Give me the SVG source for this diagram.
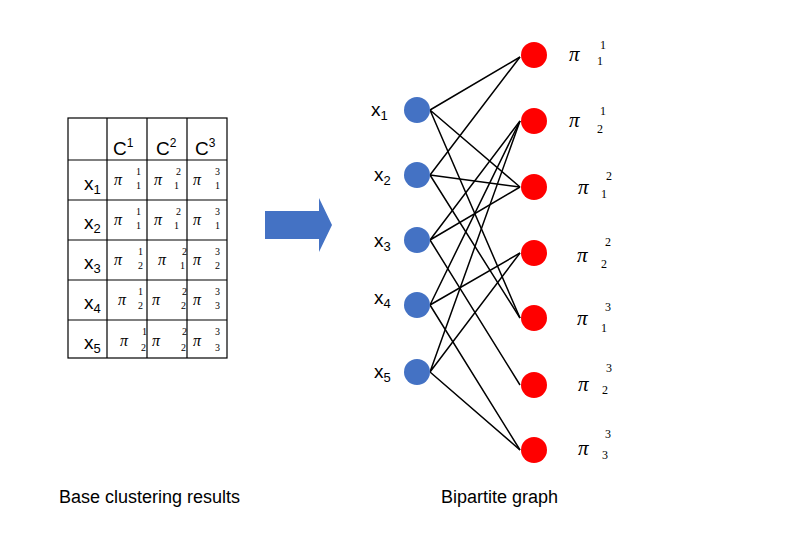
<svg xmlns="http://www.w3.org/2000/svg" width="790" height="557" viewBox="0 0 790 557">
<style>
.t{font-family:"Liberation Sans",Arial,sans-serif;fill:#000}
.p{font-family:"Liberation Serif","Times New Roman",serif;font-style:italic;fill:#000}
.n{font-family:"Liberation Serif","Times New Roman",serif;fill:#000}
.b{fill:#4472C4}
.r{fill:#FF0000}
.e{stroke:#000;stroke-width:1.5;fill:none}
.g{stroke:#000;stroke-width:1.2;fill:none}
</style>
<rect width="790" height="557" fill="#fff"/>
<g id="table">
<rect x="68" y="118" width="159" height="240" class="g"/>
<path class="g" d="M107 118V358M147 118V358M187 118V358M68 160H227M68 200H227M68 240H227M68 280H227M68 320H227"/>
<g class="t" font-size="19"><text x="113" y="155">C<tspan font-size="12" dy="-8">1</tspan></text><text x="156" y="155">C<tspan font-size="12" dy="-8">2</tspan></text><text x="195" y="155">C<tspan font-size="12" dy="-8">3</tspan></text></g>
<g class="t" font-size="19">
<text x="84" y="190">x<tspan font-size="13" dy="4">1</tspan></text>
<text x="84" y="229">x<tspan font-size="13" dy="4">2</tspan></text>
<text x="84" y="269">x<tspan font-size="13" dy="4">3</tspan></text>
<text x="84" y="309">x<tspan font-size="13" dy="4">4</tspan></text>
<text x="84" y="349">x<tspan font-size="13" dy="4">5</tspan></text>
</g>
<g font-size="16" class="p">
<text x="114" y="185">π</text><text x="154" y="185">π</text><text x="193" y="185">π</text>
<text x="114" y="225">π</text><text x="154" y="225">π</text><text x="193" y="225">π</text>
<text x="114" y="265">π</text><text x="158" y="265">π</text><text x="193" y="265">π</text>
<text x="118" y="305">π</text><text x="152" y="305">π</text><text x="193" y="305">π</text>
<text x="120" y="346">π</text><text x="152" y="346">π</text><text x="193" y="346">π</text>
</g>
<g font-size="10" class="n">
<text x="136" y="175">1</text><text x="136" y="189">1</text><text x="176" y="175">2</text><text x="174" y="189">1</text><text x="215" y="175">3</text><text x="215" y="189">1</text>
<text x="136" y="215">1</text><text x="136" y="229">1</text><text x="176" y="215">2</text><text x="174" y="229">1</text><text x="215" y="215">3</text><text x="215" y="229">1</text>
<text x="138" y="255">1</text><text x="138" y="269">2</text><text x="182" y="255">2</text><text x="180" y="269">1</text><text x="215" y="255">3</text><text x="215" y="269">2</text>
<text x="138" y="295">1</text><text x="138" y="309">2</text><text x="182" y="295">2</text><text x="181" y="309">2</text><text x="215" y="295">3</text><text x="215" y="309">3</text>
<text x="142" y="335">1</text><text x="141" y="351">2</text><text x="182" y="335">2</text><text x="181" y="351">2</text><text x="215" y="335">3</text><text x="215" y="351">3</text>
</g>
</g>
<g id="arrow"><path class="b" d="M265 211H319V198L332 225L319 252V239H265Z"/></g>
<g id="connectors" class="e">
<path d="M430 110L520 57M430 110L520 187M430 110L520 318"/>
<path d="M430 175L520 57M430 175L520 187M430 175L520 318"/>
<path d="M430 240L520 121M430 240L520 187M430 240L520 385"/>
<path d="M430 305L520 121M430 305L520 253M430 305L520 450"/>
<path d="M430 372L520 121M430 372L520 253M430 372L520 450"/>
</g>
<g class="t" font-size="19">
<g id="x1"><circle class="b" cx="417" cy="110" r="13"/><text x="371" y="116">x<tspan font-size="13" dy="4">1</tspan></text></g>
<g id="x2"><circle class="b" cx="417" cy="175" r="13"/><text x="374" y="181">x<tspan font-size="13" dy="4">2</tspan></text></g>
<g id="x3"><circle class="b" cx="417" cy="240" r="13"/><text x="374" y="247">x<tspan font-size="13" dy="4">3</tspan></text></g>
<g id="x4"><circle class="b" cx="417" cy="305" r="13"/><text x="374" y="304">x<tspan font-size="13" dy="4">4</tspan></text></g>
<g id="x5"><circle class="b" cx="417" cy="372" r="13"/><text x="374" y="378">x<tspan font-size="13" dy="4">5</tspan></text></g>
</g>
<g>
<g id="r1"><circle class="r" cx="534" cy="55" r="13"/><text class="p" x="569" y="61" font-size="21">π</text><text class="n" font-size="12" x="600" y="49">1</text><text class="n" font-size="12" x="597" y="65">1</text></g>
<g id="r2"><circle class="r" cx="534" cy="121" r="13"/><text class="p" x="569" y="127" font-size="21">π</text><text class="n" font-size="12" x="600" y="115">1</text><text class="n" font-size="12" x="597" y="133">2</text></g>
<g id="r3"><circle class="r" cx="534" cy="187" r="13"/><text class="p" x="578" y="194" font-size="21">π</text><text class="n" font-size="12" x="606" y="180">2</text><text class="n" font-size="12" x="601" y="198">1</text></g>
<g id="r4"><circle class="r" cx="534" cy="253" r="13"/><text class="p" x="577" y="262" font-size="21">π</text><text class="n" font-size="12" x="605" y="246">2</text><text class="n" font-size="12" x="601" y="268">2</text></g>
<g id="r5"><circle class="r" cx="534" cy="318" r="13"/><text class="p" x="577" y="325" font-size="21">π</text><text class="n" font-size="12" x="605" y="311">3</text><text class="n" font-size="12" x="601" y="332">1</text></g>
<g id="r6"><circle class="r" cx="534" cy="385" r="13"/><text class="p" x="578" y="391" font-size="21">π</text><text class="n" font-size="12" x="606" y="372">3</text><text class="n" font-size="12" x="602" y="394">2</text></g>
<g id="r7"><circle class="r" cx="534" cy="450" r="13"/><text class="p" x="578" y="455" font-size="21">π</text><text class="n" font-size="12" x="605" y="438">3</text><text class="n" font-size="12" x="602" y="459">3</text></g>
</g>
<text class="t" x="59" y="503" font-size="18">Base clustering results</text>
<text class="t" x="441" y="503" font-size="18">Bipartite graph</text>
</svg>
